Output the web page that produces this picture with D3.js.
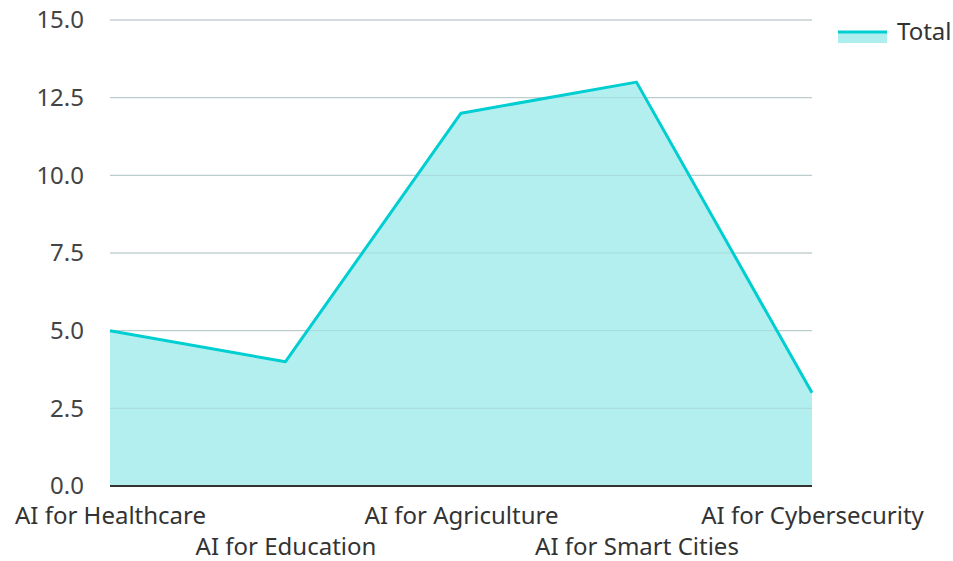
<!DOCTYPE html>
<html><head><meta charset="utf-8">
<script src="https://cdn.jsdelivr.net/npm/d3@7"></script>
<style>body{margin:0;background:#fff;} svg{display:block;font-family:"Noto Sans","Open Sans",sans-serif;}</style>
</head><body>
<svg id="c" width="953" height="561"></svg>
<script>
const categories = ["AI for Healthcare","AI for Education","AI for Agriculture","AI for Smart Cities","AI for Cybersecurity"];
const totals = [5, 4, 12, 13, 3];
const yTicks = [0, 2.5, 5, 7.5, 10, 12.5, 15];
const seriesName = "Total";

(function(){
const svg = d3.select("#c");
const mLeft = 110, mRight = 812, mTop = 20, mBottom = 486;
const fs = 24;
const x = d3.scalePoint().domain(categories).range([mLeft, mRight]);
const y = d3.scaleLinear().domain([0, 15]).range([mBottom, mTop]);
const lineColor = "#00CED1", fillColor = "#AFEEEE";

svg.append("g").selectAll("line").data(yTicks.filter(d => d > 0)).join("line")
  .attr("x1", mLeft).attr("x2", mRight)
  .attr("y1", d => y(d)).attr("y2", d => y(d))
  .attr("stroke", "#c8c8c8").attr("stroke-width", 1);

const data = categories.map((c, i) => ({c, v: totals[i]}));
svg.append("path").datum(data)
  .attr("d", d3.area().x(d => x(d.c)).y0(y(0)).y1(d => y(d.v)))
  .attr("fill", fillColor).attr("fill-opacity", 0.95);
svg.append("g").selectAll("line").data(yTicks.filter(d => d > 0)).join("line")
  .attr("x1", mLeft).attr("x2", mRight)
  .attr("y1", d => y(d)).attr("y2", d => y(d))
  .attr("stroke", "#a0c8c8").attr("stroke-width", 1).attr("stroke-opacity", 0.5);
svg.append("path").datum(data)
  .attr("d", d3.line().x(d => x(d.c)).y(d => y(d.v)))
  .attr("fill", "none").attr("stroke", lineColor).attr("stroke-width", 3)
  .attr("stroke-linejoin", "round");

const yAxis = d3.axisLeft(y).tickValues(yTicks).tickFormat(d3.format(".1f")).tickSize(0).tickPadding(26);
const gy = svg.append("g").attr("transform", `translate(${mLeft},0)`).call(yAxis);
gy.select(".domain").remove();
gy.attr("font-size", fs).attr("font-family", '"Noto Sans","Open Sans",sans-serif');
gy.selectAll("text").attr("fill", "#444");

const xAxis = d3.axisBottom(x).tickSize(0).tickPadding(0);
const gx = svg.append("g").attr("transform", `translate(0,${mBottom})`).call(xAxis);
gx.attr("font-size", fs).attr("font-family", '"Noto Sans","Open Sans",sans-serif');
gx.select(".domain").attr("stroke", "#333").attr("stroke-width", 2).attr("d", `M${mLeft},0H${mRight}`);
gx.selectAll("text").attr("fill", "#333")
  .attr("dy", null)
  .attr("y", (d, i) => i % 2 === 0 ? 38 : 69);

const lg = svg.append("g");
lg.append("rect").attr("x", 838).attr("y", 31).attr("width", 49).attr("height", 12).attr("fill", fillColor);
lg.append("line").attr("x1", 838).attr("x2", 887).attr("y1", 32).attr("y2", 32).attr("stroke", lineColor).attr("stroke-width", 3);
lg.append("text").attr("x", 897).attr("y", 40).attr("font-size", fs).attr("fill", "#333").text(seriesName);
})();
</script>
</body></html>
